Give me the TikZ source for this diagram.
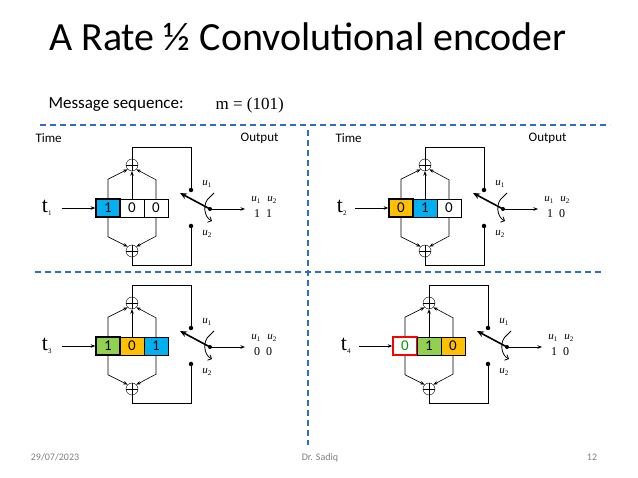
\documentclass[tikz,border=0pt]{standalone}
\usepackage{fontspec}
\setmainfont{Carlito}
\newfontfamily\serif{Liberation Serif}
\usetikzlibrary{arrows.meta}
\definecolor{cblue}{RGB}{0,176,240}
\definecolor{cgold}{RGB}{255,192,0}
\definecolor{cgreen}{RGB}{146,208,80}
\definecolor{dashblue}{RGB}{47,110,200}
\tikzset{
  cell/.style={draw, minimum width=24pt, minimum height=18pt, inner sep=0pt, font=\fontsize{15}{15}\selectfont, anchor=center},
  hot/.style={line width=1.6pt},
  xor/.style={circle, draw, minimum size=12pt, inner sep=0pt, path picture={\draw (path picture bounding box.north)--(path picture bounding box.south) (path picture bounding box.west)--(path picture bounding box.east);}},
  ar/.style={-{Stealth[length=4.5pt,width=3.5pt]}, line width=0.6pt},
  ln/.style={line width=0.6pt},
  ulab/.style={font=\serif\itshape\fontsize{11}{11}\selectfont, inner sep=0pt},
  dot/.style={circle, fill, inner sep=0pt, minimum size=4.5pt},
  dsh/.style={draw=dashblue, line width=1.4pt, dash pattern=on 6pt off 4pt},
}
\newcommand\sub[1]{\textsubscript{\upshape\fontsize{7}{7}\selectfont #1}}
\newcommand\encoder[9]{%
\begin{scope}[shift={(#2,#3)}]
  \node[cell,#4] (#1c1) at (108,208) {#7};
  \node[cell,#5] (#1c2) at (132,208) {#8};
  \node[cell,#6] (#1c3) at (156,208) {#9};
  \node[xor] (#1xa) at (132,165) {};
  \node[xor] (#1xb) at (132,251) {};
  \node[dot] (#1da) at (191,190) {};
  \node[dot] (#1db) at (191,226) {};
  \coordinate (#1pv) at (210,209);
  \coordinate (#1bl) at (180,193);
  \coordinate (#1out) at (245,209);
  \coordinate (#1in) at (62,208);
  \draw[ar] (#1in) -- (#1c1.west);
  \draw[ar] (#1c1.north) -- ++(0,-19) -- (#1xa.south west);
  \draw[ar] (#1c2.north) -- (#1xa.south);
  \draw[ar] (#1c3.north) -- ++(0,-19) -- (#1xa.south east);
  \draw[ar] (#1c1.south) -- ++(0,19) -- (#1xb.north west);
  \draw[ar] (#1c3.south) -- ++(0,19) -- (#1xb.north east);
  \draw[ln] (#1xa.north) |- (191,147) -- (#1da);
  \draw[ln] (#1xb.south) |- (191,265) -- (#1db);
  \draw[line width=1.6pt, -{Stealth[length=7pt,width=6pt]}] (#1pv) -- (#1bl);
  \fill (#1pv) circle (2pt);
  \draw[ar] (#1pv) -- (#1out);
  \draw[line width=0.8pt, -{Straight Barb[length=3pt,width=6pt]}] (210,197) to[bend right=60] (212,221);
  \draw[line width=0.8pt] (210,197) -- (214,193);
  \node[ulab] at (207,184) {u\sub{1}};
  \node[ulab] at (207,234) {u\sub{2}};
  \node[ulab] at (256,200) {u\sub{1}};
  \node[ulab] at (272,200) {u\sub{2}};
\end{scope}}
\begin{document}
\begin{tikzpicture}[x=1pt,y=-1pt]
\useasboundingbox (0,0) rectangle (638,478);
\node[font=\fontsize{40}{40}\selectfont] at (308,37) {A Rate ½ Convolutional encoder};
\node[anchor=west,font=\fontsize{17}{17}\selectfont] at (45,105) {Message sequence:};
\node[anchor=west,font=\serif\fontsize{17}{17}\selectfont] at (212,105) {m = (101)};
\draw[dsh] (40,125) -- (610,125);
\draw[dsh] (35,272) -- (605,272);
\draw[dsh] (308,130) -- (308,445);
\foreach \x/\t in {32/Time,332/Time}{\node[anchor=west,font=\fontsize{13}{13}\selectfont] at (\x,138) {\t};}
\node[anchor=east,font=\fontsize{13}{13}\selectfont] at (282,138) {Output};
\node[anchor=east,font=\fontsize{13}{13}\selectfont] at (570,138) {Output};
\encoder{a}{0}{0}{fill=cblue,hot}{}{}{1}{0}{0}
\encoder{b}{293}{0}{fill=cgold,hot}{fill=cblue}{}{0}{1}{0}
\encoder{c}{0}{138}{fill=cgreen,hot}{fill=cgold}{fill=cblue}{1}{0}{1}
\encoder{d}{297}{138}{draw=red,hot,text=green!60!black}{fill=cgreen}{fill=cgold}{0}{1}{0}
\tikzset{tl/.style={font=\serif\fontsize{22}{22}\selectfont,inner sep=0pt}, vl/.style={font=\serif\fontsize{12}{12}\selectfont}}
\node[tl] at (47,208) {t\sub{1}};
\node[tl] at (342,208) {t\sub{2}};
\node[tl] at (47,346) {t\sub{3}};
\node[tl] at (346,346) {t\sub{4}};
\node[vl] at (263,214) {1\ \ 1};
\node[vl] at (556,214) {1\ \ 0};
\node[vl] at (263,352) {0\ \ 0};
\node[vl] at (560,352) {1\ \ 0};
\tikzset{ft/.style={font=\fontsize{10}{10}\selectfont, text=gray, anchor=base}}
\node[ft] at (55,461) {29/07/2023};
\node[ft] at (320,461) {Dr. Sadiq};
\node[ft] at (592,461) {12};
\end{tikzpicture}
\end{document}
